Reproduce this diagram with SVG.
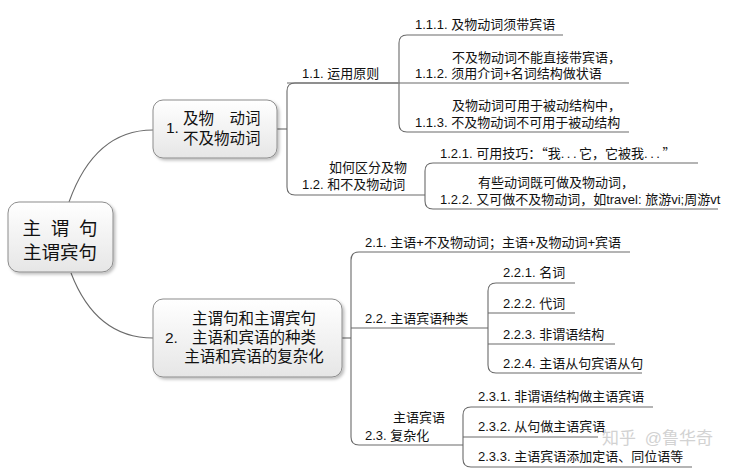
<svg xmlns="http://www.w3.org/2000/svg" width="732" height="475" viewBox="0 0 732 475">
<defs>
<linearGradient id="g" x1="0" y1="0" x2="0" y2="1">
<stop offset="0" stop-color="#ffffff"/>
<stop offset="1" stop-color="#e6e6e6"/>
</linearGradient>
<filter id="sh" x="-10%" y="-10%" width="130%" height="140%">
<feDropShadow dx="2" dy="2" stdDeviation="1.5" flood-color="#000" flood-opacity="0.25"/>
</filter>
</defs>
<style>
text{font-family:"Liberation Sans","Noto Sans CJK SC",sans-serif;fill:#111}
.box{fill:url(#g);stroke:#8c8c8c;stroke-width:1;filter:url(#sh)}
.ln{fill:none;stroke:#6a6a6a;stroke-width:1.1}
.s{font-size:13px}
.m{font-size:15.5px}
.r{font-size:18.5px}
.wm{font-size:17px;fill:#d2d2d2}
.q{font-family:"Noto Sans CJK SC",sans-serif}
</style>
<rect width="732" height="475" fill="#fff"/>
<g id="connectors">
<path class="ln" d="M69,202 C84,160 110,130 153,130"/>
<path class="ln" d="M71,273 C86,312 112,338 153,338"/>
<path class="ln" d="M277,129 H287"/>
<path class="ln" d="M398,83 H295 Q287,83 287,91 V187 Q287,195 295,195 H425"/>
<path class="ln" d="M287,83 H629"/>
<path class="ln" d="M563,35 H407 Q399,35 399,43 V124 Q399,132 407,132 H629"/>
<path class="ln" d="M698,163 H433 Q425,163 425,171 V201 Q425,209 433,209 H718"/>
<path class="ln" d="M342,338 H351"/>
<path class="ln" d="M630,252 H359 Q351,252 351,260 V437 Q351,445 359,445 H463"/>
<path class="ln" d="M351,328 H488"/>
<path class="ln" d="M575,283 H496 Q488,283 488,291 V365 Q488,373 496,373 H642"/>
<path class="ln" d="M488,313 H575"/>
<path class="ln" d="M488,344 H615"/>
<path class="ln" d="M653,407 H471 Q463,407 463,415 V459 Q463,467 471,467 H692"/>
<path class="ln" d="M463,437 H598"/>
</g>
<g id="root">
<rect class="box" x="8" y="202" width="105" height="70" rx="11"/>
<text class="r" x="60" y="235" text-anchor="middle" xml:space="preserve" word-spacing="4.5">主 谓 句</text>
<text class="r" x="60" y="259" text-anchor="middle">主谓宾句</text>
</g>
<g id="n1">
<rect class="box" x="153" y="100" width="124" height="58" rx="10"/>
<text class="m" x="166" y="133">1.</text>
<text class="m" x="183" y="124">及物　动词</text>
<text class="m" x="183" y="144">不及物动词</text>
</g>
<g id="n2">
<rect class="box" x="153" y="299" width="189" height="78" rx="10"/>
<text class="m" x="165" y="343">2.</text>
<text class="m" x="254" y="324" text-anchor="middle">主谓句和主谓宾句</text>
<text class="m" x="254" y="343" text-anchor="middle">主语和宾语的种类</text>
<text class="m" x="254" y="362" text-anchor="middle">主语和宾语的复杂化</text>
</g>
<g id="n1-1"><text class="s" x="302" y="78">1.1. 运用原则</text></g>
<g id="n1-1-1"><text class="s" x="415" y="29">1.1.1. 及物动词须带宾语</text></g>
<g id="n1-1-2"><text class="s" x="452" y="62">不及物动词不能直接带宾语，</text><text class="s" x="415" y="78">1.1.2. 须用介词+名词结构做状语</text></g>
<g id="n1-1-3"><text class="s" x="452" y="110">及物动词可用于被动结构中，</text><text class="s" x="415" y="127">1.1.3. 不及物动词不可用于被动结构</text></g>
<g id="n1-2"><text class="s" x="329" y="172">如何区分及物</text><text class="s" x="302" y="189">1.2. 和不及物动词</text></g>
<g id="n1-2-1"><text class="s" x="440" y="158">1.2.1. 可用技巧：<tspan class="q">“</tspan>我<tspan letter-spacing="2.5">...</tspan>它，它被我<tspan letter-spacing="2.5">...</tspan><tspan class="q">”</tspan></text></g>
<g id="n1-2-2"><text class="s" x="478" y="187">有些动词既可做及物动词，</text><text class="s" x="440" y="204">1.2.2. 又可做不及物动词，如travel: 旅游vi;周游vt</text></g>
<g id="n2-1"><text class="s" x="365" y="247">2.1. 主语+不及物动词；主语+及物动词+宾语</text></g>
<g id="n2-2"><text class="s" x="365" y="323">2.2. 主语宾语种类</text></g>
<g id="n2-2-1"><text class="s" x="503" y="277">2.2.1. 名词</text></g>
<g id="n2-2-2"><text class="s" x="503" y="308">2.2.2. 代词</text></g>
<g id="n2-2-3"><text class="s" x="503" y="339">2.2.3. 非谓语结构</text></g>
<g id="n2-2-4"><text class="s" x="503" y="368">2.2.4. 主语从句宾语从句</text></g>
<g id="n2-3"><text class="s" x="393" y="422">主语宾语</text><text class="s" x="365" y="440">2.3. 复杂化</text></g>
<g id="n2-3-1"><text class="s" x="478" y="401">2.3.1. 非谓语结构做主语宾语</text></g>
<g id="n2-3-2"><text class="s" x="478" y="431">2.3.2. 从句做主语宾语</text></g>
<g id="n2-3-3"><text class="s" x="478" y="461">2.3.3. 主语宾语添加定语、同位语等</text></g>
<text class="wm" x="602" y="444" word-spacing="4">知乎 @鲁华奇</text>
</svg>
